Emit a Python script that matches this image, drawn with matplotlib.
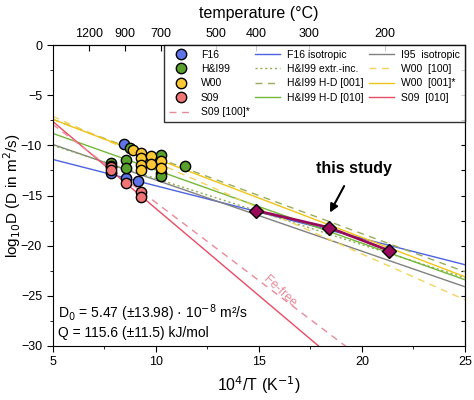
import matplotlib
matplotlib.use("Agg")
import matplotlib.pyplot as plt
from matplotlib.lines import Line2D

plt.rcParams["font.family"] = ["Liberation Sans", "DejaVu Sans"]

# -------------------------
# Data
# -------------------------
f16_x = [8.48, 7.84, 8.55, 9.16]
f16_y = [-9.9, -12.8, -13.3, -13.6]

hi99_x = [7.84, 7.84, 8.55, 8.55, 8.75, 10.26, 10.26, 10.26, 11.42]
hi99_y = [-11.8, -12.1, -11.45, -12.3, -10.3, -10.95, -12.8, -13.1, -12.1]

w00_x = [8.88, 9.29, 9.29, 9.29, 9.29, 9.76, 9.76, 10.26, 10.26]
w00_y = [-10.5, -10.8, -11.3, -11.95, -12.5, -11.1, -11.85, -11.6, -12.3]

s09_x = [7.84, 7.84, 8.55, 9.29, 9.29]
s09_y = [-12.2, -12.5, -13.8, -14.7, -15.1]

study_x = [14.87, 18.41, 21.33]
study_y = [-16.5, -18.2, -20.5]

# Arrhenius lines (end points)
line_x = [5, 25]
f16_iso = [-11.4, -21.9]
i95_iso = [-9.9, -24.1]
hi99_extr = [-10.0, -23.2]
hi99_001 = [-7.4, -22.6]
hi99_010 = [-8.8, -23.4]
w00_100 = [-7.1, -25.4]
w00_001 = [-7.4, -23.1]
s09_010_x = [5, 17.9]
s09_010_y = [-7.6, -30]
s09_100_x = [5, 19.2]
s09_100_y = [-7.9, -30]

temp_ticks = [1200, 900, 700, 500, 400, 300, 200]

# -------------------------
# Colors
# -------------------------
c_blue, c_green, c_yellow, c_red = "#5f74e8", "#5aa02c", "#fcc934", "#f27575"
lc_blue, lc_gray = "#4c62e0", "#808080"
lc_extr, lc_001, lc_010 = "#8aae50", "#9aab5c", "#74b83a"
lc_w100, lc_w001 = "#f4d35e", "#f0c419"
lc_s010, lc_s100 = "#e94b63", "#e88a9a"
c_study = "#990a5a"

# -------------------------
# Plot
# -------------------------
fig = plt.figure(figsize=(4.74, 4.0), dpi=100)
ax = fig.add_axes([0.1108, 0.135, 0.8702, 0.7525])

lw = 1.0
ax.plot(line_x, f16_iso, color=lc_blue, lw=lw)
ax.plot(line_x, i95_iso, color=lc_gray, lw=lw)
ax.plot(line_x, hi99_extr, color=lc_extr, lw=lw, linestyle=(0, (1.5, 2)))
ax.plot(line_x, hi99_001, color=lc_001, lw=lw, linestyle=(0, (5, 4)))
ax.plot(line_x, hi99_010, color=lc_010, lw=lw)
ax.plot(line_x, w00_100, color=lc_w100, lw=lw, linestyle=(0, (5, 4)))
ax.plot(line_x, w00_001, color=lc_w001, lw=lw)
ax.plot(s09_010_x, s09_010_y, color=lc_s010, lw=lw)
ax.plot(s09_100_x, s09_100_y, color=lc_s100, lw=lw, linestyle=(0, (5, 4)))

ms = 55
ax.scatter(f16_x, f16_y, s=ms, color=c_blue, edgecolor="black", linewidth=1, zorder=3)
ax.scatter(hi99_x, hi99_y, s=ms, color=c_green, edgecolor="black", linewidth=1, zorder=3)
ax.scatter(w00_x, w00_y, s=ms, color=c_yellow, edgecolor="black", linewidth=1, zorder=3)
ax.scatter(s09_x, s09_y, s=ms, color=c_red, edgecolor="black", linewidth=1, zorder=3)

ax.plot(study_x, study_y, color=c_study, lw=2, marker="D", markersize=7,
        markerfacecolor=c_study, markeredgecolor="black", markeredgewidth=1, zorder=4)

ax.annotate("this study", xy=(18.45, -16.7), xytext=(19.6, -12.3),
            ha="center", va="center", fontsize=11.5, fontweight="bold",
            arrowprops=dict(arrowstyle="-|>", color="black", lw=1.5,
                            mutation_scale=12, shrinkA=6, shrinkB=0))

ax.text(16.0, -24.6, "Fe-free", color=lc_s100, fontsize=9, rotation=-43,
        ha="center", va="center")

ax.text(5.25, -26.7, "D$_0$ = 5.47 (\u00b113.98) \u00b7 10$^{-8}$ m\u00b2/s", fontsize=10,
        ha="left", va="center")
ax.text(5.25, -28.7, "Q = 115.6 (\u00b111.5) kJ/mol", fontsize=10,
        ha="left", va="center")

ax.set_xlim(5, 25)
ax.set_ylim(-30, 0)
ax.set_xticks([5, 10, 15, 20, 25])
ax.set_xticks([7.5, 12.5, 17.5, 22.5], minor=True)
ax.set_yticks([0, -5, -10, -15, -20, -25, -30])
ax.set_yticks([-2.5, -7.5, -12.5, -17.5, -22.5, -27.5], minor=True)
ax.tick_params(which="both", direction="out", labelsize=9)
ax.tick_params(which="major", length=4)
ax.tick_params(which="minor", length=2.5)
ax.set_xlabel("10$^4$/T (K$^{-1}$)", fontsize=11.5)
ax.set_ylabel("log$_{10}$D (D in m$^2$/s)", fontsize=11)
ax.yaxis.set_label_coords(-0.072, 0.5)

# right axis: inward ticks only
sec_y = ax.secondary_yaxis("right")
sec_y.set_yticks([-2.5, -5, -7.5, -10, -12.5, -15, -17.5, -20, -22.5, -25, -27.5])
sec_y.tick_params(direction="in", length=3, labelright=False)

# top axis: temperature in degC
sec_x = ax.secondary_xaxis("top", functions=(lambda x: 1e4 / x - 273.15,
                                             lambda t: 1e4 / (t + 273.15)))
sec_x.set_xticks(temp_ticks)
sec_x.tick_params(direction="in", length=4, labelsize=9)
sec_x.set_xlabel("temperature (\u00b0C)", fontsize=11.5, labelpad=7)

handles = [
    Line2D([], [], marker="o", ls="none", ms=7.5, mfc=c_blue, mec="black"),
    Line2D([], [], marker="o", ls="none", ms=7.5, mfc=c_green, mec="black"),
    Line2D([], [], marker="o", ls="none", ms=7.5, mfc=c_yellow, mec="black"),
    Line2D([], [], marker="o", ls="none", ms=7.5, mfc=c_red, mec="black"),
    Line2D([], [], color=lc_s100, lw=lw, ls=(0, (5, 4))),
    Line2D([], [], color=lc_blue, lw=lw),
    Line2D([], [], color=lc_extr, lw=lw, ls=(0, (1.5, 2))),
    Line2D([], [], color=lc_001, lw=lw, ls=(0, (5, 4))),
    Line2D([], [], color=lc_010, lw=lw),
    Line2D([], [], color=lc_gray, lw=lw),
    Line2D([], [], color=lc_w100, lw=lw, ls=(0, (5, 4))),
    Line2D([], [], color=lc_w001, lw=lw),
    Line2D([], [], color=lc_s010, lw=lw),
]
labels = ["F16", "H&I99", "W00", "S09", "S09 [100]*",
          "F16 isotropic", "H&I99 extr.-inc.", "H&I99 H-D [001]", "H&I99 H-D [010]",
          "I95  isotropic", "W00  [100]", "W00  [001]*", "S09  [010]"]
leg = ax.legend(handles, labels, ncol=3, loc="upper right", bbox_to_anchor=(1, 1),
                borderaxespad=0, fontsize=7.5, handlelength=2.4, handletextpad=0.7,
                columnspacing=0.5, labelspacing=0.42, borderpad=0.45,
                fancybox=False, frameon=True)
leg.get_frame().set_edgecolor("black")
leg.get_frame().set_linewidth(1.0)

fig.savefig("out.png", dpi=100)
